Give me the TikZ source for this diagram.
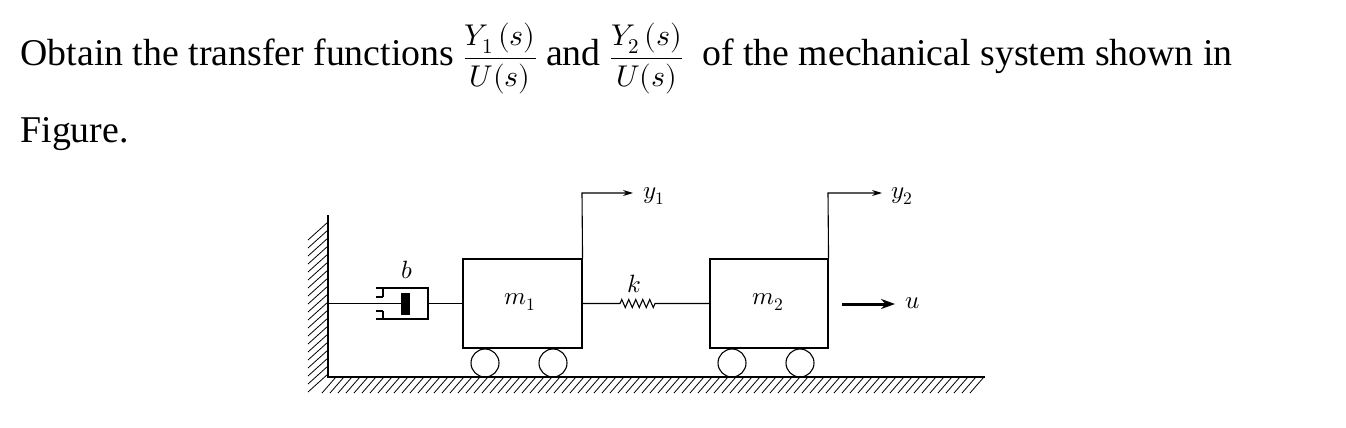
\documentclass[tikz,border=0pt]{standalone}
\usepackage{fontspec}
\setmainfont{Liberation Serif}
\usepackage{unicode-math}
\setmathfont{Latin Modern Math}
\usetikzlibrary{arrows.meta,decorations.pathmorphing}
\begin{document}
\begin{tikzpicture}[x=1pt,y=-1pt,line width=1.1pt,
  lbl/.style={font=\fontsize{25}{28}\selectfont},
  arr/.style={-{Stealth[length=10pt,width=6pt]}},
  hatch/.style={line width=0.8pt}]
\useasboundingbox (0,0) rectangle (1346,428);
\node[anchor=base west,inner sep=0,font=\fontsize{37.8}{42}\selectfont] (t1) at (20,66)
 {Obtain the transfer functions {\fontsize{30}{34}\selectfont$\displaystyle\frac{Y_1\,(s)}{U(s)}$} and {\fontsize{30}{34}\selectfont$\displaystyle\frac{Y_2\,(s)}{U(s)}$}\ \ of the mechanical system shown in};
\node[anchor=base west,inner sep=0,font=\fontsize{37.8}{42}\selectfont] (t2) at (20,142) {Figure.};
% wall and floor
\coordinate (wt) at (328,215); \coordinate (wb) at (328,377); \coordinate (fr) at (985,377);
\draw (wt) -- (wb) -- (fr);
\foreach \y in {222,230,...,380} \draw[hatch] (328,\y) -- (308,\y+18);
\foreach \x in {336,344,...,988} \draw[hatch] (\x,377) -- (\x-14,393);
% m1
\node[draw,minimum width=119pt,minimum height=89pt,inner sep=0] (m1) at (522.5,303.5) {};
\node[lbl] (m1l) at (520,302) {$m_1$};
\draw (485,363) circle (14); \draw (553,363) circle (14);
% m2
\node[draw,minimum width=118pt,minimum height=89pt,inner sep=0] (m2) at (769,303.5) {};
\node[lbl] (m2l) at (768,302) {$m_2$};
\draw (732,363) circle (14); \draw (800,363) circle (14);
% damper
\coordinate (dw) at (328,303.5);
\draw (dw) -- (401,303.5);
\fill (401,293) rectangle (410,315);
\draw (376,288) -- (428,288) -- (428,319) -- (376,319);
\draw (383,288) -- (383,297); \draw (383,311) -- (383,319);
\draw (383,297) -- (376,297); \draw (383,311) -- (376,311);
\draw (428,303.5) -- (m1.west);
\node[lbl] (b) at (407,270) {$b$};
% spring
\draw (m1.east) -- (620,303.5) decorate[decoration={zigzag,segment length=7pt,amplitude=4pt}] {-- (655,303.5)} -- (m2.west);
\node[lbl] (k) at (634,284) {$k$};
% displacement arrows
\draw[arr] (m1.north east) -- (582,193) -- (633,193);
\node[lbl] (y1) at (654,196) {$y_1$};
\draw[arr] (m2.north east) -- (828,193) -- (882,193);
\node[lbl] (y2) at (902,196) {$y_2$};
\draw[line width=3pt,-{Stealth[length=14pt,width=10pt]}] (842,304) -- (895,304);
\node[lbl] (u) at (913,303) {$u$};
\end{tikzpicture}
\end{document}
